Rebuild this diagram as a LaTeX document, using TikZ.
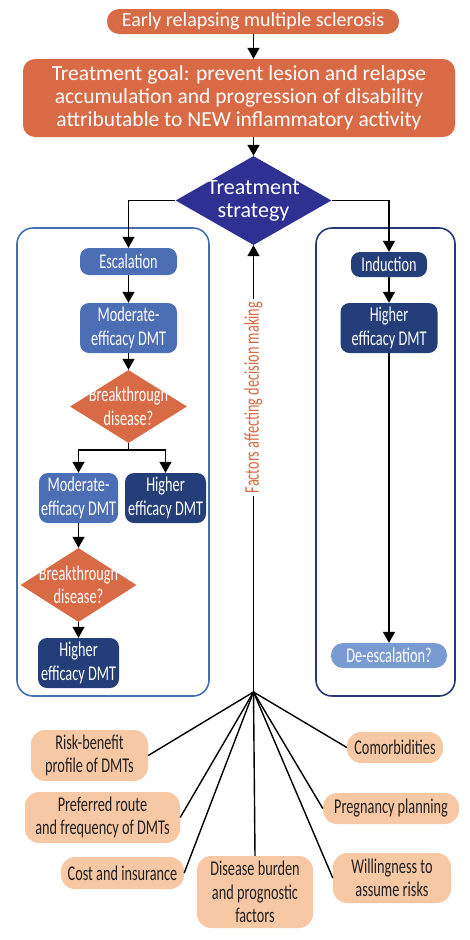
\documentclass[tikz,border=0pt]{standalone}
\usepackage{fontspec}
\setmainfont{Carlito}
\newfontfamily\condfont{Carlito}[FakeStretch=0.68]
\usetikzlibrary{shapes.geometric,arrows.meta}
\definecolor{msorange}{RGB}{216,106,70}
\definecolor{mspeach}{RGB}{246,201,164}
\definecolor{msnavy}{RGB}{46,49,146}
\definecolor{escblue}{RGB}{76,110,180}
\definecolor{hidark}{RGB}{35,62,120}
\definecolor{deblue}{RGB}{122,155,210}
\definecolor{frameleft}{RGB}{70,110,180}
\definecolor{frameright}{RGB}{40,55,120}
\definecolor{txtdark}{RGB}{35,31,32}

\def\lcol{128.5}
\def\mcol{78.5}
\def\rcol{389}
\def\ccol{253.5}

\begin{document}
\begin{tikzpicture}[x=1pt, y=-1pt, >={Triangle[length=11pt,width=12pt]},
  every node/.style={inner sep=0pt, align=center},
  topbox/.style={fill=msorange, text=white, rounded corners=12pt},
  small/.style={font=\condfont\fontsize{21}{23.5}\selectfont},
  stepblue/.style={small, fill=escblue, text=white, rounded corners=9pt},
  stephigh/.style={small, fill=hidark, text=white, rounded corners=9pt},
  choice/.style={shape=diamond, fill=msorange},
  frame/.style={draw, line width=1.6pt, rounded corners=16pt},
  factor/.style={small, fill=mspeach, text=txtdark, rounded corners=14pt},
  link/.style={line width=1.4pt}]
  \useasboundingbox (0,0) rectangle (470,940);

  \node[frame, draw=frameleft, minimum width=192, minimum height=468] (escframe) at (113,462) {};
  \node[frame, draw=frameright, minimum width=139, minimum height=468] (indframe) at (385.5,462) {};

  \node[topbox, minimum width=292, minimum height=25, font=\fontsize{20}{22}\selectfont] (early) at (253,21.5) {Early relapsing multiple sclerosis};
  \node[topbox, minimum width=432, minimum height=78, font=\fontsize{21.5}{23}\selectfont] (goal) at (239,98)
    {Treatment goal: prevent lesion and relapse\\accumulation and progression of disability\\attributable to NEW inflammatory activity};
  \node[shape=diamond, fill=msnavy, minimum width=156, minimum height=89,
    label={[text=white, font=\fontsize{22}{23}\selectfont]center:{Treatment\\strategy}}] (strat) at (\ccol,200.5) {};

  \node[stepblue, minimum width=97, minimum height=27] (esc) at (\lcol,261.5) {Escalation};
  \node[stepblue, minimum width=97, minimum height=50] (mod1) at (\lcol,328) {Moderate-\\efficacy DMT};
  \node[choice, minimum width=117, minimum height=73,
    label={[small, text=white]center:{Breakthrough\\disease?}}] (brk1) at (\lcol,406.5) {};
  \coordinate (split) at (\lcol,450);
  \node[stepblue, minimum width=79, minimum height=50] (mod2) at (\mcol,498) {Moderate-\\efficacy DMT};
  \node[stephigh, minimum width=81, minimum height=50] (hi1) at (165.5,498) {Higher\\efficacy DMT};
  \node[choice, minimum width=116, minimum height=74,
    label={[small, text=white]center:{Breakthrough\\disease?}}] (brk2) at (\mcol,585) {};
  \node[stephigh, minimum width=81, minimum height=50] (hi2) at (\mcol,663) {Higher\\efficacy DMT};

  \node[stephigh, minimum width=76, minimum height=25] (ind) at (\rcol,264.5) {Induction};
  \node[stephigh, minimum width=97, minimum height=50] (hi3) at (\rcol,328) {Higher\\efficacy DMT};
  \node[small, fill=deblue, text=white, rounded corners=12pt, minimum width=116, minimum height=25] (deesc) at (\rcol,655.5) {De-escalation?};

  \draw[link, ->] (early.south -| strat) -- (goal.north -| strat);
  \draw[link, ->] (goal.south -| strat) -- (strat.north);
  \draw[link, ->] (strat.west) -| (esc.north);
  \draw[link, ->] (strat.east) -| (ind.north);
  \draw[link, ->] (esc) -- (mod1);
  \draw[link, ->] (mod1) -- (brk1);
  \draw[link] (brk1.south) -- (split);
  \draw[link, ->] (split) -| (mod2.north);
  \draw[link, ->] (split) -| (hi1.north);
  \draw[link, ->] (mod2) -- (brk2);
  \draw[link, ->] (brk2) -- (hi2);
  \draw[link, ->] (ind) -- (hi3);
  \draw[link, ->] (hi3) -- (deesc);

  \coordinate (hub) at (\ccol,692);
  \draw[link, ->] (hub) -- (strat.south);
  \node[small, rotate=90, fill=white, text=msorange, inner xsep=3pt, inner ysep=1pt] (factors) at (\ccol,397.5) {Factors affecting decision making};

  \node[factor, minimum width=117, minimum height=51] (risk) at (89.5,755.5) {Risk-benefit\\profile of DMTs};
  \node[factor, minimum width=155, minimum height=51] (pref) at (102.5,817.5) {Preferred route\\and frequency of DMTs};
  \node[factor, minimum width=123, minimum height=32] (cost) at (122.5,873) {Cost and insurance};
  \node[factor, minimum width=116, minimum height=72] (burden) at (255,892) {Disease burden\\and prognostic\\factors};
  \node[factor, minimum width=96, minimum height=31] (comorb) at (395,747.5) {Comorbidities};
  \node[factor, minimum width=136, minimum height=31] (preg) at (391,808.5) {Pregnancy planning};
  \node[factor, minimum width=118, minimum height=50] (will) at (392,878) {Willingness to\\assume risks};

  \foreach \f/\a in {risk/east, pref/east, cost/east, burden/north, comorb/west, preg/west, will/west} {
      \draw[link] (hub) -- (\f.\a);
  }
\end{tikzpicture}
\end{document}
